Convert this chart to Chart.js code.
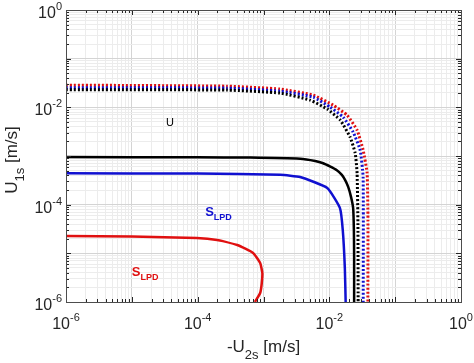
<!DOCTYPE html>
<html>
<head>
<meta charset="utf-8">
<script src="https://cdn.jsdelivr.net/npm/chart.js@4/dist/chart.umd.min.js"></script>
<style>
  html, body { margin: 0; padding: 0; background: #fff; }
  #wrap { width: 474px; height: 363px; position: relative; }
</style>
</head>
<body>
<div id="wrap"><canvas id="myChart"></canvas></div>
<script>
// decade ticks for both axes
const decadeTicks = [-6, -5, -4, -3, -2, -1, 0];
const labelledTicks = [-6, -4, -2, 0];

// solid curves
const blackSolidX = [1e-6, 1e-4, 6.3e-4, 3.6e-3, 6.1e-3, 8.05e-3, 1.02e-2, 1.3e-2, 1.55e-2, 1.74e-2, 1.94e-2, 2.14e-2, 2.3e-2, 2.36e-2, 2.38e-2, 2.38e-2];
const blackSolidY = [9.5e-4, 9.4e-4, 9.3e-4, 8.8e-4, 7.9e-4, 7.1e-4, 6.1e-4, 5.1e-4, 4.1e-4, 3.2e-4, 2.3e-4, 1.43e-4, 8.5e-5, 3e-5, 8e-6, 1e-6];

const blueSolidX = [1e-6, 1e-4, 1.8e-3, 3.6e-3, 9.3e-3, 1.45e-2, 1.6e-2, 1.72e-2, 1.77e-2];
const blueSolidY = [4.4e-4, 4.35e-4, 4.1e-4, 3.7e-4, 2.2e-4, 8.5e-5, 3e-5, 5e-6, 1e-6];

const redSolidX = [1e-6, 1e-5, 9.7e-5, 1.97e-4, 4e-4, 6.95e-4, 8.9e-4, 9.6e-4, 9.4e-4, 8.9e-4, 7.4e-4];
const redSolidY = [2.26e-5, 2.22e-5, 2.06e-5, 1.87e-5, 1.48e-5, 1.02e-5, 6.3e-6, 3.95e-6, 2.4e-6, 1.53e-6, 1e-6];

// dotted curves
const blackDotX = [1e-6, 2.8e-4, 1.79e-3, 5.1e-3, 9.3e-3, 1.46e-2, 2.07e-2, 2.47e-2, 2.64e-2, 2.72e-2, 2.74e-2];
const blackDotY = [2.31e-2, 2.26e-2, 1.96e-2, 1.41e-2, 9.2e-3, 5.5e-3, 2.44e-3, 1.15e-3, 4.45e-4, 4e-5, 1e-6];

const blueDotX = [1e-6, 2.8e-4, 1.79e-3, 5.7e-3, 1.03e-2, 1.62e-2, 2.3e-2, 2.94e-2, 3.26e-2, 3.27e-2];
const blueDotY = [2.54e-2, 2.48e-2, 2.15e-2, 1.62e-2, 1.01e-2, 6.3e-3, 3.1e-3, 1.32e-3, 3.7e-4, 1e-6];

const redDotX = [1e-6, 2.8e-4, 1.79e-3, 5.7e-3, 1.14e-2, 1.86e-2, 2.64e-2, 3.26e-2, 3.75e-2, 3.86e-2, 3.85e-2];
const redDotY = [2.86e-2, 2.72e-2, 2.37e-2, 1.78e-2, 1.11e-2, 6.9e-3, 3.4e-3, 1.32e-3, 4.45e-4, 4.8e-5, 1e-6];

// text annotations inside the plot (data coordinates)
const noteMain = ['U', 'S', 'S'];
const noteSub = ['', 'LPD', 'LPD'];
const noteX = [3.3e-5, 1.3e-4, 1e-5];
const noteY = [5e-3, 7.4e-5, 4.3e-6];
const noteColor = ['#000000', '#1010d0', '#e01010'];

const FONT = 'Arial, "Liberation Sans", sans-serif';

function toPoints(xs, ys) {
  return xs.map((x, i) => ({ x: x, y: ys[i] }));
}

function allLogTicks() {
  const out = [];
  decadeTicks.forEach((d) => {
    if (d === 0) { out.push({ value: 1 }); return; }
    for (let m = 1; m <= 9; m++) out.push({ value: m * Math.pow(10, d) });
  });
  return out;
}

function isDecade(v) {
  const l = Math.log10(v);
  return Math.abs(l - Math.round(l)) < 1e-6;
}

// draws text pieces with super/subscripts
function richText(ctx, parts, x, y, align) {
  let total = 0;
  parts.forEach((p) => {
    ctx.font = p.font;
    p.w = ctx.measureText(p.t).width;
    total += p.w;
  });
  let cx = x;
  if (align === 'center') cx = x - total / 2;
  if (align === 'right') cx = x - total;
  ctx.textAlign = 'left';
  ctx.textBaseline = 'alphabetic';
  parts.forEach((p) => {
    ctx.font = p.font;
    ctx.fillText(p.t, cx, y + (p.dy || 0));
    cx += p.w;
  });
}

function tickParts(d) {
  return [
    { t: '10', font: '16px ' + FONT },
    { t: String(d), font: '11px ' + FONT, dy: -8 }
  ];
}

const matlabLook = {
  id: 'matlabLook',
  afterDatasetsDraw(chart) {
    const ctx = chart.ctx;
    const a = chart.chartArea;
    const xs = chart.scales.x;
    const ys = chart.scales.y;
    ctx.save();

    // inward tick marks
    ctx.strokeStyle = '#262626';
    ctx.lineWidth = 1;
    allLogTicks().forEach((t) => {
      const len = isDecade(t.value) ? 5 : 3;
      const px = Math.round(xs.getPixelForValue(t.value)) + 0.5;
      const py = Math.round(ys.getPixelForValue(t.value)) + 0.5;
      ctx.beginPath();
      ctx.moveTo(px, a.bottom); ctx.lineTo(px, a.bottom - len);
      ctx.moveTo(px, a.top); ctx.lineTo(px, a.top + len);
      ctx.moveTo(a.left, py); ctx.lineTo(a.left + len, py);
      ctx.moveTo(a.right, py); ctx.lineTo(a.right - len, py);
      ctx.stroke();
    });

    // box
    ctx.strokeStyle = '#4d4d4d';
    ctx.strokeRect(Math.round(a.left) + 0.5, Math.round(a.top) + 0.5,
      Math.round(a.right - a.left), Math.round(a.bottom - a.top));

    // tick labels
    ctx.fillStyle = '#262626';
    labelledTicks.forEach((d) => {
      const v = Math.pow(10, d);
      richText(ctx, tickParts(d), xs.getPixelForValue(v), a.bottom + 27, 'center');
      richText(ctx, tickParts(d), a.left - 4, ys.getPixelForValue(v) + 8, 'right');
    });

    // axis titles
    ctx.fillStyle = '#262626';
    richText(ctx, [
      { t: '-U', font: '17px ' + FONT },
      { t: '2s', font: '13px ' + FONT, dy: 7 },
      { t: ' [m/s]', font: '17px ' + FONT }
    ], (a.left + a.right) / 2, a.bottom + 50, 'center');

    ctx.save();
    ctx.translate(17, (a.top + a.bottom) / 2 + 4);
    ctx.rotate(-Math.PI / 2);
    richText(ctx, [
      { t: 'U', font: '17px ' + FONT },
      { t: '1s', font: '13px ' + FONT, dy: 7 },
      { t: ' [m/s]', font: '17px ' + FONT }
    ], 0, 0, 'center');
    ctx.restore();

    // notes
    noteMain.forEach((m, i) => {
      ctx.fillStyle = noteColor[i];
      const px = xs.getPixelForValue(noteX[i]);
      const py = ys.getPixelForValue(noteY[i]);
      if (noteSub[i]) {
        richText(ctx, [
          { t: m, font: 'bold 13px ' + FONT },
          { t: noteSub[i], font: 'bold 9px ' + FONT, dy: 4 }
        ], px, py + 5, 'left');
      } else {
        richText(ctx, [{ t: m, font: '11px ' + FONT }], px, py + 4, 'left');
      }
    });

    ctx.restore();
  }
};

function solid(data, color) {
  return { data: data, borderColor: color, borderWidth: 2.5, pointRadius: 0, showLine: true, fill: false,
    tension: 0.15, borderJoinStyle: 'round' };
}
function dotted(data, color) {
  return { data: data, borderColor: color, borderWidth: 3, borderDash: [2, 2], borderCapStyle: 'butt',
    pointRadius: 0, showLine: true, fill: false, tension: 0.15 };
}

function logAxis() {
  return {
    type: 'logarithmic',
    min: 1e-6,
    max: 1,
    afterBuildTicks: (scale) => { scale.ticks = allLogTicks(); },
    ticks: { display: false },
    grid: {
      drawTicks: false,
      color: (c) => (c.tick && isDecade(c.tick.value) ? '#d4d4d4' : '#ececec'),
      lineWidth: 1
    },
    border: { display: false }
  };
}

new Chart(document.getElementById('myChart'), {
  type: 'scatter',
  data: {
    datasets: [
      solid(toPoints(blackSolidX, blackSolidY), '#000000'),
      solid(toPoints(blueSolidX, blueSolidY), '#1010d0'),
      solid(toPoints(redSolidX, redSolidY), '#e01010'),
      dotted(toPoints(blackDotX, blackDotY), '#000000'),
      dotted(toPoints(blueDotX, blueDotY), '#1010d0'),
      dotted(toPoints(redDotX, redDotY), '#e01010')
    ]
  },
  options: {
    responsive: true,
    maintainAspectRatio: false,
    animation: false,
    layout: { padding: { left: 66, right: 13, top: 10, bottom: 61 } },
    plugins: { legend: { display: false }, tooltip: { enabled: false } },
    scales: { x: logAxis(), y: logAxis() }
  },
  plugins: [matlabLook]
});
</script>
</body>
</html>
